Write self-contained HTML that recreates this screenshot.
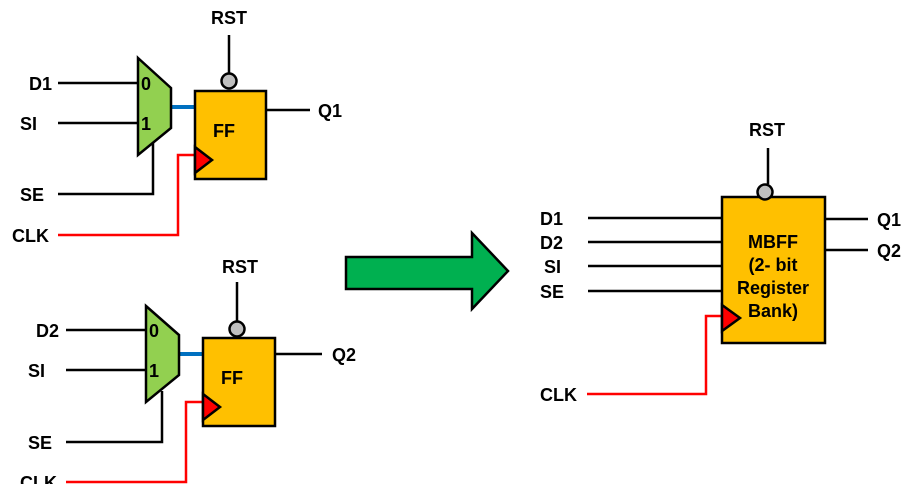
<!DOCTYPE html>
<html><head><style>body{margin:0;background:#fff}svg{display:block}text{font-family:"Liberation Sans",Arial,sans-serif;font-weight:bold;font-size:18px;fill:#000}</style></head>
<body>
<svg width="922" height="484" viewBox="0 0 922 484">
<g stroke="#000" stroke-width="2.5" fill="none">
<line x1="58" y1="83" x2="138" y2="83"/><line x1="58" y1="123" x2="138" y2="123"/>
<polyline points="58,194 153,194 153,143"/>
<line x1="229" y1="35" x2="229" y2="73"/>
<line x1="266" y1="110" x2="310" y2="110"/>
<line x1="66" y1="330" x2="146" y2="330"/><line x1="66" y1="370" x2="146" y2="370"/>
<polyline points="66,442 162,442 162,391"/>
<line x1="237" y1="282" x2="237" y2="321"/>
<line x1="275" y1="354" x2="322" y2="354"/>
<line x1="588" y1="218" x2="722" y2="218"/><line x1="588" y1="242" x2="722" y2="242"/>
<line x1="588" y1="266" x2="722" y2="266"/><line x1="588" y1="291" x2="722" y2="291"/>
<line x1="768" y1="148" x2="768" y2="184"/>
<line x1="825" y1="219" x2="868" y2="219"/><line x1="825" y1="250" x2="868" y2="250"/>
</g>
<g stroke="#ff0000" stroke-width="2.5" fill="none">
<polyline points="58,235 178,235 178,155 195,155"/>
<polyline points="66,482 186,482 186,402 203,402"/>
<polyline points="587,394 706,394 706,316 722,316"/>
</g>
<g stroke="#0070c0" stroke-width="4"><line x1="171" y1="107" x2="195" y2="107"/><line x1="179" y1="354" x2="203" y2="354"/></g>
<g stroke="#000" stroke-width="2.5">
<polygon points="138,58 171,88 171,128 138,155" fill="#92d050"/>
<polygon points="146,306 179,335 179,375 146,402" fill="#92d050"/>
<rect x="195" y="91" width="71" height="88" fill="#ffc000"/>
<rect x="203" y="338" width="72" height="88" fill="#ffc000"/>
<rect x="722" y="197" width="103" height="146" fill="#ffc000"/>
<circle cx="229" cy="81" r="7.5" fill="#bfbfbf"/>
<circle cx="237" cy="329" r="7.5" fill="#bfbfbf"/>
<circle cx="765" cy="192" r="7.5" fill="#bfbfbf"/>
<polygon points="195,147 212,160 195,173" fill="#ff0000"/>
<polygon points="203,394 220,407 203,420" fill="#ff0000"/>
<polygon points="722,305 740,318 722,331" fill="#ff0000"/>
<polygon points="346,257 472,257 472,233 508,271 472,309 472,289 346,289" fill="#00b050"/>
</g>
<text x="229" y="24" text-anchor="middle">RST</text>
<text x="29" y="90">D1</text><text x="20" y="130">SI</text><text x="20" y="201">SE</text><text x="12" y="242">CLK</text>
<text x="141" y="90">0</text><text x="141" y="130">1</text>
<text x="213" y="137">FF</text><text x="318" y="117">Q1</text>
<text x="240" y="273" text-anchor="middle">RST</text>
<text x="36" y="337">D2</text><text x="28" y="377">SI</text><text x="28" y="449">SE</text><text x="20" y="489">CLK</text>
<text x="149" y="337">0</text><text x="149" y="377">1</text>
<text x="221" y="384">FF</text><text x="332" y="361">Q2</text>
<text x="767" y="136" text-anchor="middle">RST</text>
<text x="540" y="225">D1</text><text x="540" y="249">D2</text><text x="544" y="273">SI</text><text x="540" y="298">SE</text>
<text x="540" y="401">CLK</text>
<text x="877" y="226">Q1</text><text x="877" y="257">Q2</text>
<text x="773" y="248" text-anchor="middle">MBFF</text>
<text x="773" y="271" text-anchor="middle">(2- bit</text>
<text x="773" y="294" text-anchor="middle">Register</text>
<text x="773" y="317" text-anchor="middle">Bank)</text>
</svg>
</body></html>
